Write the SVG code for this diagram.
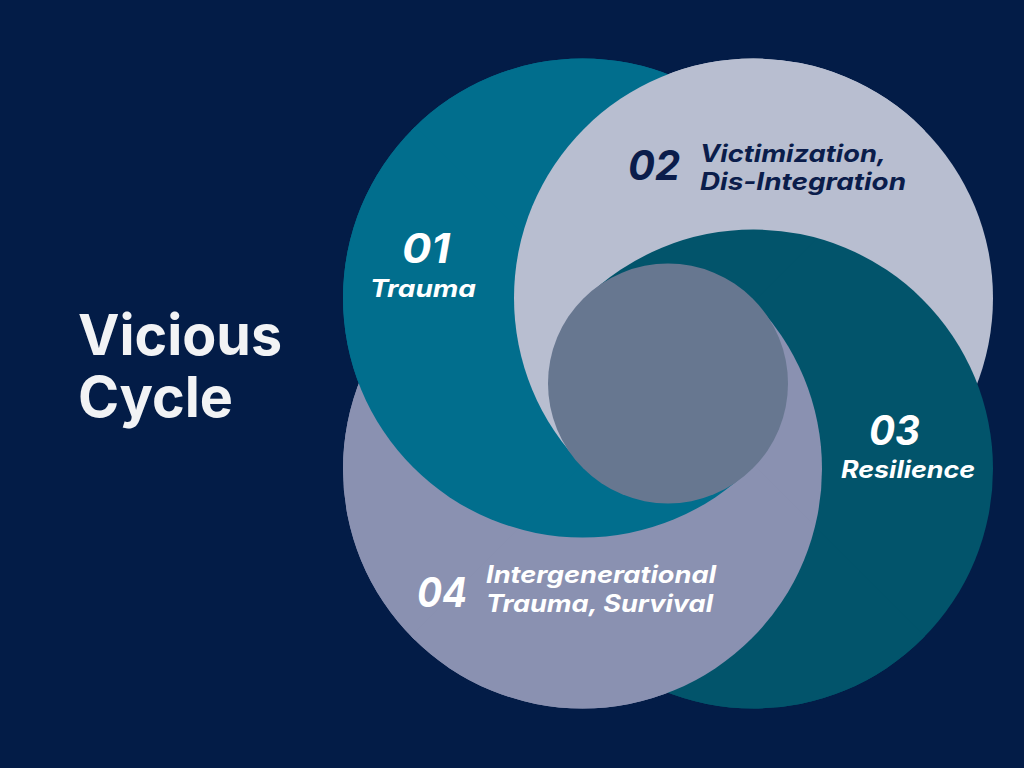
<svg xmlns="http://www.w3.org/2000/svg" xmlns:xlink="http://www.w3.org/1999/xlink" width="1024" height="768" viewBox="0 0 1024 768">
  <style>
    .title { font-family: "Inter", "Open Sans", "DejaVu Sans", sans-serif; font-weight: 700; font-size: 56px; fill: #f2f3f5; }
    .num { font-family: "Inter", "Open Sans", "DejaVu Sans", sans-serif; font-weight: 700; font-style: italic; font-size: 41px; }
    .lbl { font-family: "Inter", "Open Sans", "DejaVu Sans", sans-serif; font-weight: 700; font-style: italic; font-size: 24px; }
    .light { fill: #ffffff; }
    .dark { fill: #0b1d4b; }
  </style>
  <defs>
    <circle id="c1" cx="582.5" cy="298" r="239.5" fill="#016e8d"/>
    <circle id="c2" cx="753.5" cy="298" r="239.5" fill="#b8bed0"/>
    <circle id="c3" cx="753.5" cy="469" r="239.5" fill="#02546b"/>
    <circle id="c4" cx="582.5" cy="469" r="239.5" fill="#8a91b1"/>
    <!-- sector masks around the hub, each widened by a few px so the edges overlap -->
    <mask id="mTop" maskUnits="userSpaceOnUse" x="0" y="0" width="1024" height="768">
      <polygon fill="#fff" points="668,387.5 -332,-612.5 1668,-612.5"/>
    </mask>
    <mask id="mLeft" maskUnits="userSpaceOnUse" x="0" y="0" width="1024" height="768">
      <polygon fill="#fff" points="672,383.5 -328,-616.5 -328,1383.5"/>
    </mask>
    <mask id="mBottom" maskUnits="userSpaceOnUse" x="0" y="0" width="1024" height="768">
      <polygon fill="#fff" points="668,379.5 1668,1379.5 -332,1379.5"/>
    </mask>
  </defs>

  <rect width="1024" height="768" fill="#031c47"/>

  <g id="title">
    <text class="title" x="78" y="355" textLength="204" lengthAdjust="spacingAndGlyphs">Vicious</text>
    <text class="title" x="78" y="417" textLength="155" lengthAdjust="spacingAndGlyphs">Cycle</text>
  </g>

  <!-- base stacking (correct on the right side of the swirl) -->
  <g id="node-01"><use xlink:href="#c1" href="#c1"/></g>
  <g id="node-02"><use xlink:href="#c2" href="#c2"/></g>
  <g id="node-03"><use xlink:href="#c3" href="#c3"/></g>
  <g id="node-04"><use xlink:href="#c4" href="#c4"/></g>

  <!-- swirl: each sector re-stacks the circles so each one overlaps the previous -->
  <g id="swirl-top" mask="url(#mTop)">
    <use xlink:href="#c4" href="#c4"/>
    <use xlink:href="#c1" href="#c1"/>
    <use xlink:href="#c2" href="#c2"/>
    <use xlink:href="#c3" href="#c3"/>
  </g>
  <g id="swirl-left" mask="url(#mLeft)">
    <use xlink:href="#c3" href="#c3"/>
    <use xlink:href="#c4" href="#c4"/>
    <use xlink:href="#c1" href="#c1"/>
    <use xlink:href="#c2" href="#c2"/>
  </g>
  <g id="swirl-bottom" mask="url(#mBottom)">
    <use xlink:href="#c2" href="#c2"/>
    <use xlink:href="#c3" href="#c3"/>
    <use xlink:href="#c4" href="#c4"/>
    <use xlink:href="#c1" href="#c1"/>
  </g>

  <g id="node-center">
    <circle cx="668" cy="383.5" r="120" fill="#677790"/>
  </g>

  <g id="label-01">
    <text class="num light" x="402" y="263" textLength="48" lengthAdjust="spacingAndGlyphs">01</text>
    <text class="lbl light" x="370" y="297" textLength="106" lengthAdjust="spacingAndGlyphs">Trauma</text>
  </g>
  <g id="label-02">
    <text class="num dark" x="628" y="180" textLength="52" lengthAdjust="spacingAndGlyphs">02</text>
    <text class="lbl dark" x="700" y="162" textLength="186" lengthAdjust="spacingAndGlyphs">Victimization,</text>
    <text class="lbl dark" x="700" y="190" textLength="206" lengthAdjust="spacingAndGlyphs">Dis-Integration</text>
  </g>
  <g id="label-03">
    <text class="num light" x="869" y="445" textLength="51" lengthAdjust="spacingAndGlyphs">03</text>
    <text class="lbl light" x="841" y="478" textLength="134" lengthAdjust="spacingAndGlyphs">Resilience</text>
  </g>
  <g id="label-04">
    <text class="num light" x="417" y="607" textLength="50" lengthAdjust="spacingAndGlyphs">04</text>
    <text class="lbl light" x="486" y="583" textLength="230" lengthAdjust="spacingAndGlyphs">Intergenerational</text>
    <text class="lbl light" x="486" y="612" textLength="227" lengthAdjust="spacingAndGlyphs">Trauma, Survival</text>
  </g>
</svg>
